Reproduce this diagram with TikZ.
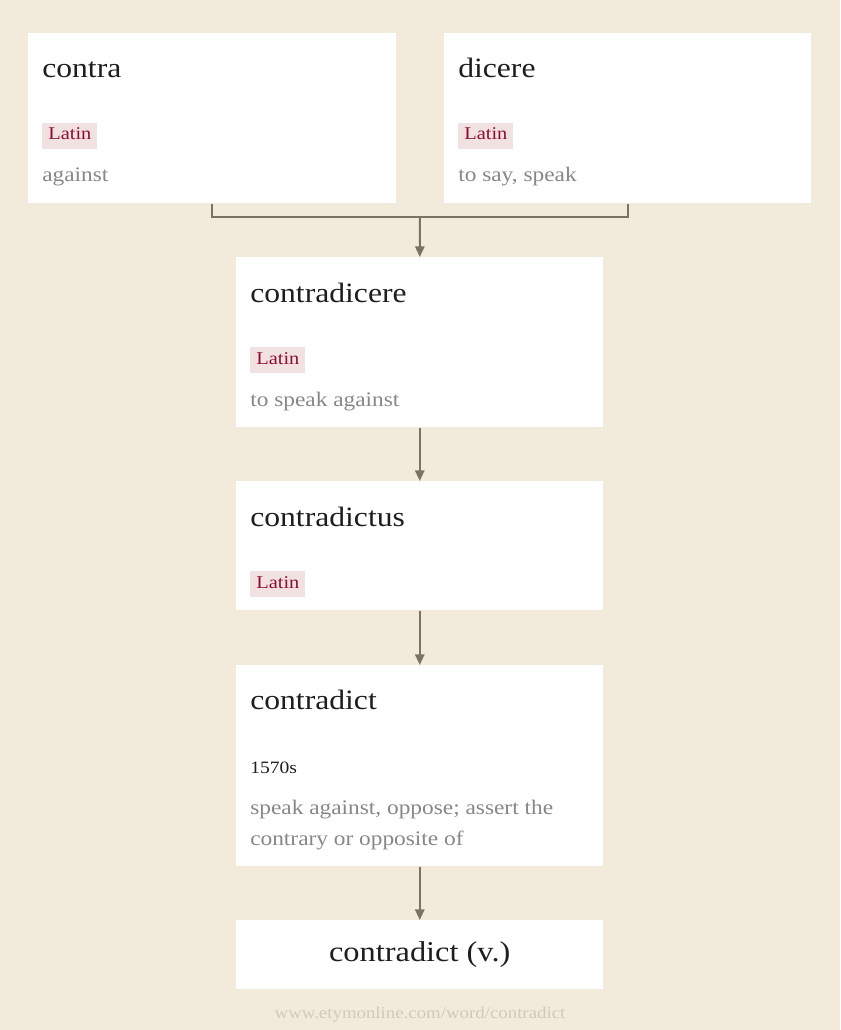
\documentclass[tikz,border=0pt]{standalone}
\usepackage{fontspec}
\setmainfont{Liberation Serif}[FakeStretch=1.13]
\usetikzlibrary{arrows.meta}
\definecolor{bg}{HTML}{F2EBDB}
\definecolor{tagbg}{HTML}{F2E1E3}
\definecolor{tagfg}{HTML}{8E0F2C}
\definecolor{gloss}{HTML}{878787}
\definecolor{link}{HTML}{7A7363}
\definecolor{foot}{HTML}{D2C9B7}
\definecolor{ink}{HTML}{1E1E1E}
\tikzset{
  card/.style={fill=white, draw=none, anchor=north west, inner sep=0pt},
  title/.style={anchor=base west, inner sep=0pt, text=ink, font=\fontsize{21}{24}\selectfont},
  tag/.style={anchor=base west, fill=tagbg, text=tagfg, inner xsep=4.6pt, inner ysep=0pt, text height=13pt, text depth=6.5pt, font=\fontsize{13.5}{16}\selectfont},
  glosstext/.style={anchor=base west, inner sep=0pt, text=gloss, font=\fontsize{15.5}{23}\selectfont},
  datetext/.style={anchor=base west, inner sep=0pt, text=ink, font=\fontsize{13}{15}\selectfont},
  link/.style={draw=link, line width=1.5pt},
  arr/.style={link, -{Triangle[length=8pt,width=7pt]}},
}
\begin{document}
\begin{tikzpicture}[x=0.75pt,y=-0.75pt]
\useasboundingbox[fill=bg] (0,0) rectangle (840,1030);
% cards
\node[card, minimum width=368*0.75pt, minimum height=170*0.75pt] (c1) at (28,33) {};
\node[card, minimum width=367*0.75pt, minimum height=170*0.75pt] (c2) at (444,33) {};
\node[card, minimum width=367*0.75pt, minimum height=170*0.75pt] (c3) at (236,257) {};
\node[card, minimum width=367*0.75pt, minimum height=129*0.75pt] (c4) at (236,481) {};
\node[card, minimum width=367*0.75pt, minimum height=201*0.75pt] (c5) at (236,665) {};
\node[card, minimum width=367*0.75pt, minimum height=69*0.75pt] (c6) at (236,920) {};
% contra
\node[title] (t1) at (42,78) {contra};
\node[tag] (g1) at (42,140) {Latin};
\node[glosstext] (d1) at (42,182) {against};
% dicere
\node[title] (t2) at (458,78) {dicere};
\node[tag] (g2) at (458,140) {Latin};
\node[glosstext] (d2) at (458,182) {to say, speak};
% contradicere
\node[title] (t3) at (250,302) {contradicere};
\node[tag] (g3) at (250,364) {Latin};
\node[glosstext] (d3) at (250,406) {to speak against};
% contradictus
\node[title] (t4) at (250,526) {contradictus};
\node[tag] (g4) at (250,588) {Latin};
% contradict
\node[title] (t5) at (250,709) {contradict};
\node[datetext] (y5) at (250,773) {1570s};
\node[glosstext] (d5a) at (250,814) {speak against, oppose; assert the};
\node[glosstext] (d5b) at (250,845) {contrary or opposite of};
% final
\node[inner sep=0pt, text=ink, font=\fontsize{21.5}{24}\selectfont] (t6) at (c6.center) {contradict (v.)};
\node[inner sep=0pt, text=foot, font=\fontsize{12.5}{14}\selectfont] (foot) at (420,1015) {www.etymonline.com/word/contradict};
% connectors
\coordinate (j) at (420,217);
\draw[link] (c1.south) |- (j) -| (c2.south);
\draw[arr] (j) -- (c3.north);
\draw[arr] (c3.south) -- (c4.north);
\draw[arr] (c4.south) -- (c5.north);
\draw[arr] (c5.south) -- (c6.north);
\end{tikzpicture}
\end{document}
